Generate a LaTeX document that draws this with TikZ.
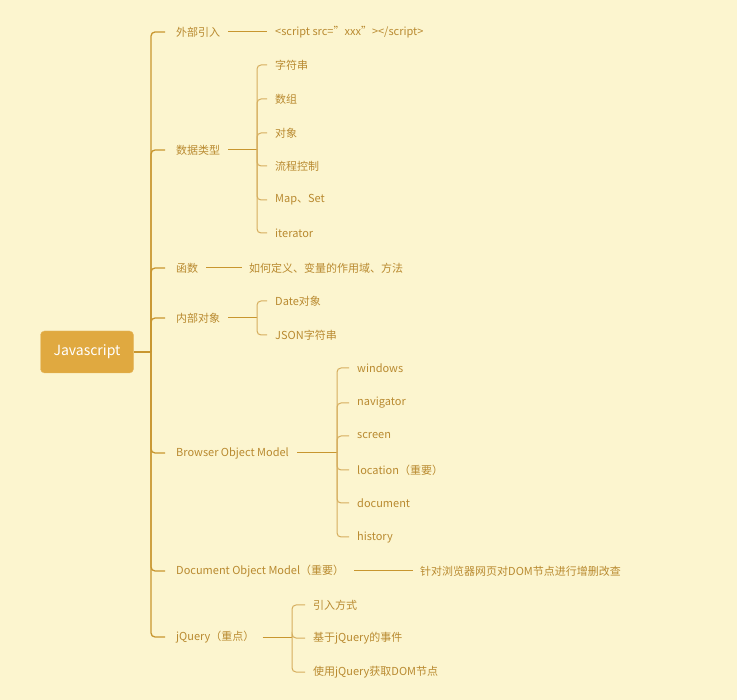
\documentclass[tikz,border=0pt]{standalone}
\usepackage{fontspec}
\setmainfont{Noto Sans CJK SC}
\definecolor{bg}{HTML}{FCF5CF}
\definecolor{ln}{HTML}{C8962F}
\definecolor{ln2}{HTML}{D6AE5E}
\definecolor{tx}{HTML}{B98A30}
\definecolor{rootc}{HTML}{E0A940}
\begin{document}
\begin{tikzpicture}[x=1pt,y=-1pt,
  txt/.style={anchor=west,inner sep=0pt,text=tx,font=\fontsize{11}{13}\selectfont},
  trunk/.style={draw=ln,line width=1.3pt,rounded corners=4pt},
  twig/.style={draw=ln2,line width=1pt,rounded corners=4pt},
  lnk/.style={draw=ln,line width=1pt}]
\fill[bg] (0,0) rectangle (737,700);
\useasboundingbox (0,0) rectangle (737,700);
\node[fill=rootc,rounded corners=4pt,minimum width=93pt,minimum height=42pt,text=white,font=\fontsize{14}{16}\selectfont,draw=rootc!80!white] (root) at (87,352) {Javascript};
\coordinate (T) at (151,352);
\draw[lnk,line width=1.3pt] (root.east) -- (T);
% level 1
\node[txt] (a1) at (176,32) {外部引入};
\node[txt] (a2) at (176,150) {数据类型};
\node[txt] (a3) at (176,268) {函数};
\node[txt] (a4) at (176,318) {内部对象};
\node[txt] (a5) at (176,453) {Browser Object Model};
\node[txt] (a6) at (176,571) {Document Object Model（重要）};
\node[txt] (a7) at (176,637) {jQuery（重点）};
\foreach \n in {a1,a2,a3,a4,a5,a6,a7}
  \draw[trunk] (T) |- ([xshift=-11pt]\n.west);
% leaf with straight line
\node[txt] (b1) at (275,32) {<script src="xxx"></script>};
\draw[lnk] ([xshift=8pt]a1.east) -- ([xshift=-8pt]b1.west);
\node[txt] (b3) at (249,268) {如何定义、变量的作用域、方法};
\draw[lnk] ([xshift=8pt]a3.east) -- ([xshift=-7pt]b3.west);
\node[txt] (b6) at (420,571) {针对浏览器网页对DOM节点进行增删改查};
\draw[lnk] ([xshift=10pt]a6.east) -- ([xshift=-7pt]b6.west);
% 数据类型
\coordinate (B2) at (257,150);
\draw[lnk] ([xshift=8pt]a2.east) -- (B2);
\foreach \t/\y [count=\i] in {字符串/65,数组/99,对象/133,流程控制/166,{Map、Set}/200,iterator/233}{
  \node[txt] (c2\i) at (275,\y) {\t};
  \draw[twig] (B2) |- ([xshift=-8pt]c2\i.west);}
% 内部对象
\coordinate (B4) at (257,318);
\draw[lnk] ([xshift=8pt]a4.east) -- (B4);
\foreach \t/\y [count=\i] in {Date对象/301,JSON字符串/335}{
  \node[txt] (c4\i) at (275,\y) {\t};
  \draw[twig] (B4) |- ([xshift=-8pt]c4\i.west);}
% BOM
\coordinate (B5) at (337,453);
\draw[lnk] ([xshift=8pt]a5.east) -- (B5);
\foreach \t/\y [count=\i] in {windows/368,navigator/403,screen/436,location（重要）/470,document/503,history/537}{
  \node[txt] (c5\i) at (357,\y) {\t};
  \draw[twig] (B5) |- ([xshift=-8pt]c5\i.west);}
% jQuery
\coordinate (B7) at (292,637);
\draw[lnk] ([xshift=8pt]a7.east) -- (B7);
\foreach \t/\y [count=\i] in {引入方式/605,基于jQuery的事件/638,使用jQuery获取DOM节点/672}{
  \node[txt] (c7\i) at (313,\y) {\t};
  \draw[twig] (B7) |- ([xshift=-8pt]c7\i.west);}
\end{tikzpicture}
\end{document}
